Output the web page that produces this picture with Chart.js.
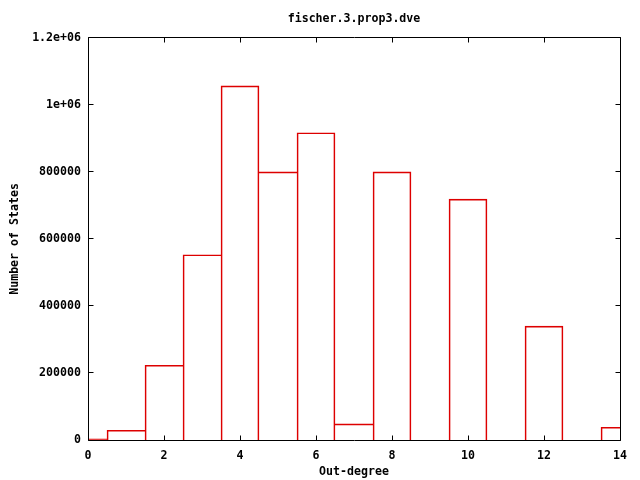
<!DOCTYPE html>
<html>
<head>
<meta charset="utf-8">
<script src="https://cdn.jsdelivr.net/npm/chart.js@4/dist/chart.umd.min.js"></script>
<style>
html,body{margin:0;padding:0;background:#fff;}
#wrap{width:640px;height:480px;position:relative;}
</style>
</head>
<body>
<div id="wrap"><canvas id="c" width="640" height="480"></canvas></div>
<script>
const outDegree = [0, 1, 2, 3, 4, 5, 6, 7, 8, 9, 10, 11, 12, 13, 14];
const numStates = [3500, 29000, 223000, 553000, 1057000, 800000, 917000, 48000, 800000, 0, 719000, 0, 340000, 0, 38000];
const yTickValues = [0, 200000, 400000, 600000, 800000, 1000000, 1200000];
const yTickLabels = ['0', '200000', '400000', '600000', '800000', '1e+06', '1.2e+06'];
const xTickValues = [0, 2, 4, 6, 8, 10, 12, 14];

const FONT = 'DejaVu Sans Mono';
const fontSpec = {family: FONT, size: 11.6, weight: 'bold'};

// Shared box edges are drawn once (by the taller box), like gnuplot's outlined boxes.
function sideWidths(ctx) {
  const i = ctx.dataIndex;
  const v = numStates[i];
  const left = i > 0 ? numStates[i - 1] : 0;
  const right = i < numStates.length - 1 ? numStates[i + 1] : 0;
  return {top: 1, bottom: 0, left: v > left ? 1 : 0, right: v >= right ? 1 : 0};
}

const framePlugin = {
  id: 'frame',
  afterDatasetsDraw(chart) {
    const {ctx, chartArea: a, scales} = chart;
    ctx.save();
    ctx.strokeStyle = '#000';
    ctx.lineWidth = 1;
    const L = Math.floor(a.left) + 0.5, R = Math.floor(a.right) + 0.5;
    const T = Math.floor(a.top) + 0.5, B = Math.floor(a.bottom) + 0.5;
    ctx.beginPath();
    ctx.rect(L, T, R - L, B - T);
    ctx.stroke();
    const tl = 5;
    ctx.beginPath();
    xTickValues.forEach(v => {
      const px = Math.floor(scales.x.getPixelForValue(v)) + 0.5;
      ctx.moveTo(px, B); ctx.lineTo(px, B - tl);
      ctx.moveTo(px, T); ctx.lineTo(px, T + tl);
    });
    yTickValues.forEach(v => {
      const py = Math.floor(scales.y.getPixelForValue(v)) + 0.5;
      ctx.moveTo(L, py); ctx.lineTo(L + tl, py);
      ctx.moveTo(R, py); ctx.lineTo(R - tl, py);
    });
    ctx.stroke();
    ctx.restore();
  }
};

new Chart(document.getElementById('c'), {
  type: 'bar',
  data: {
    datasets: [{
      data: outDegree.map((x, i) => ({x: x, y: numStates[i]})),
      backgroundColor: 'rgba(255,255,255,0)',
      borderColor: '#dd0000',
      borderWidth: sideWidths,
      barPercentage: 1.0,
      categoryPercentage: 1.0
    }]
  },
  options: {
    responsive: false,
    animation: false,
    devicePixelRatio: 1,
    layout: {padding: {left: 0, right: 20, top: 0, bottom: 0}},
    plugins: {
      legend: {display: false},
      tooltip: {enabled: false},
      title: {
        display: true,
        fullSize: false,
        text: 'fischer.3.prop3.dve',
        color: '#000',
        font: fontSpec,
        padding: {top: 12, bottom: 12}
      }
    },
    scales: {
      x: {
        type: 'linear',
        min: 0,
        max: 14,
        offset: false,
        afterBuildTicks(scale) { scale.ticks = xTickValues.map(v => ({value: v})); },
        afterFit(scale) { scale.height = 40; },
        grid: {display: false, drawTicks: false},
        border: {display: false},
        ticks: {color: '#000', font: fontSpec, padding: 9, maxRotation: 0, autoSkip: false},
        title: {display: true, text: 'Out-degree', color: '#000', font: fontSpec, padding: {top: 0, bottom: 1}}
      },
      y: {
        type: 'linear',
        min: 0,
        max: 1200000,
        afterBuildTicks(scale) { scale.ticks = yTickValues.map(v => ({value: v})); },
        afterFit(scale) { scale.width = 88; },
        grid: {display: false, drawTicks: false},
        border: {display: false},
        ticks: {
          color: '#000', font: fontSpec, padding: 7, autoSkip: false,
          callback: (v) => { const i = yTickValues.indexOf(v); return i >= 0 ? yTickLabels[i] : ''; }
        },
        title: {display: true, text: 'Number of States', color: '#000', font: fontSpec, padding: {top: 8, bottom: 0}}
      }
    }
  },
  plugins: [framePlugin]
});
</script>
</body>
</html>
